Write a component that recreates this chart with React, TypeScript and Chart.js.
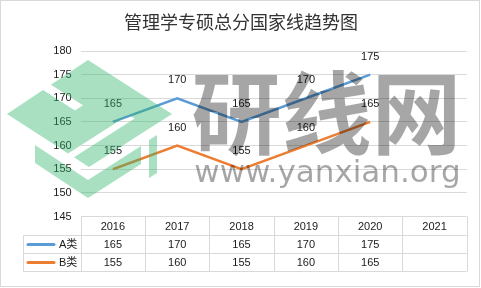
import { useEffect, useRef } from "react";
import { Chart, registerables } from "chart.js";

Chart.register(...registerables);

// ---- chart data ----
const years = ["2016", "2017", "2018", "2019", "2020", "2021"];
const seriesNames = ["A类", "B类"];
const seriesA: (number | null)[] = [165, 170, 165, 170, 175, null];
const seriesB: (number | null)[] = [155, 160, 155, 160, 165, null];
const yMin = 145;
const yMax = 180;
const yStep = 5;
const titleText = "管理学专硕总分国家线趋势图";
const brandName = "研线网";
const brandUrl = "www.yanxian.org";

const colorA = "#5B9BD5";
const colorB = "#ED7D31";
const gridColor = "#D9D9D9";
const textColor = "#1a1a1a";
const numFont = "11px 'Liberation Sans', 'Noto Sans CJK SC', sans-serif";

// white page, thin frame and the title
const framePlugin = {
  id: "frame",
  beforeDraw(chart: Chart) {
    const { ctx, width, height } = chart;
    ctx.save();
    ctx.fillStyle = "#ffffff";
    ctx.fillRect(0, 0, width, height);
    ctx.strokeStyle = gridColor;
    ctx.lineWidth = 1;
    ctx.strokeRect(0.5, 0.5, 479, 286);
    ctx.fillStyle = "#333333";
    ctx.font = "18px 'Noto Sans CJK SC', sans-serif";
    ctx.textAlign = "center";
    ctx.textBaseline = "middle";
    ctx.fillText(titleText, 241, 22);
    ctx.restore();
  },
};

// numbers written above each point
const valueLabelPlugin = {
  id: "valueLabels",
  afterDatasetsDraw(chart: Chart) {
    const { ctx } = chart;
    ctx.save();
    ctx.font = numFont;
    ctx.fillStyle = textColor;
    ctx.textAlign = "center";
    ctx.textBaseline = "middle";
    chart.data.datasets.forEach((ds, di) => {
      const meta = chart.getDatasetMeta(di);
      meta.data.forEach((pt, i) => {
        const v = ds.data[i] as number | null;
        if (v === null || v === undefined) return;
        ctx.fillText(String(v), pt.x, pt.y - 18);
      });
    });
    ctx.restore();
  },
};

// data table under the plot, columns taken from the category scale
const dataTablePlugin = {
  id: "dataTable",
  afterDraw(chart: Chart) {
    const { ctx, chartArea } = chart;
    const xs = chart.scales.x;
    const top = chartArea.bottom;
    const left = chartArea.left;
    const right = chartArea.right;
    const legendLeft = 23.5;
    const rowEdges = [top, top + 18.5, top + 36.5, top + 54.5].map(
      (v) => Math.round(v) + 0.5
    );
    const step = xs.getPixelForValue(1) - xs.getPixelForValue(0);

    ctx.save();
    ctx.strokeStyle = gridColor;
    ctx.lineWidth = 1;
    ctx.beginPath();
    // horizontal rules
    for (let r = 1; r < rowEdges.length; r++) {
      ctx.moveTo(legendLeft, rowEdges[r]);
      ctx.lineTo(right, rowEdges[r]);
    }
    // vertical rules
    const bottom = rowEdges[rowEdges.length - 1];
    ctx.moveTo(legendLeft, rowEdges[1]);
    ctx.lineTo(legendLeft, bottom);
    for (let i = 0; i <= years.length; i++) {
      const x = Math.round(xs.getPixelForValue(0) - step / 2 + i * step) + 0.5;
      ctx.moveTo(x, top);
      ctx.lineTo(x, bottom);
    }
    ctx.moveTo(Math.round(left) + 0.5, top);
    ctx.lineTo(Math.round(left) + 0.5, bottom);
    ctx.stroke();

    ctx.font = numFont;
    ctx.fillStyle = textColor;
    ctx.textBaseline = "middle";
    ctx.textAlign = "center";
    const mid = (r: number) => (rowEdges[r] + rowEdges[r + 1]) / 2;
    years.forEach((y, i) => {
      ctx.fillText(y, xs.getPixelForValue(i), mid(0));
    });
    const rows = [seriesA, seriesB];
    const colors = [colorA, colorB];
    rows.forEach((vals, r) => {
      const cy = mid(r + 1);
      vals.forEach((v, i) => {
        if (v === null) return;
        ctx.fillText(String(v), xs.getPixelForValue(i), cy);
      });
      // legend key
      ctx.save();
      ctx.strokeStyle = colors[r];
      ctx.lineWidth = 3;
      ctx.lineCap = "round";
      ctx.beginPath();
      ctx.moveTo(28, cy);
      ctx.lineTo(54, cy);
      ctx.stroke();
      ctx.restore();
      ctx.textAlign = "left";
      ctx.fillText(seriesNames[r], 59, cy);
      ctx.textAlign = "center";
    });
    ctx.restore();
  },
};

// site mark laid over the plot
const brandMarkPlugin = {
  id: "brandMark",
  afterDraw(chart: Chart) {
    const { ctx } = chart;
    ctx.save();
    // cap emblem: rhombus with two slits, a band below and a tassel
    ctx.fillStyle = "rgba(50, 180, 110, 0.42)";
    ctx.beginPath();
    const poly = (pts: number[][]) => {
      ctx.moveTo(pts[0][0], pts[0][1]);
      for (let i = 1; i < pts.length; i++) ctx.lineTo(pts[i][0], pts[i][1]);
      ctx.closePath();
    };
    poly([[88, 60], [172, 114], [89, 167], [7, 114]]);
    poly([[43, 90], [51, 84.7], [83, 105.3], [75, 110.6]]);
    poly([[68, 153.4], [74, 157.3], [134.7, 118.6], [128.7, 114.7]]);
    poly([[35, 145], [88, 180], [141, 146], [141, 164], [88, 198], [35, 163]]);
    poly([[149, 140], [157, 135], [157, 173], [149, 178]]);
    ctx.fill("evenodd");

    ctx.fillStyle = "rgba(0, 0, 0, 0.35)";
    ctx.textAlign = "center";
    ctx.textBaseline = "middle";
    ctx.font = "bold 90px 'Noto Sans CJK SC', sans-serif";
    ctx.fillText(brandName, 326.5, 113);
    ctx.textBaseline = "alphabetic";
    ctx.font = "31px 'DejaVu Sans', sans-serif";
    ctx.fillText(brandUrl, 327.5, 182);
    ctx.restore();
  },
};

export default function App() {
  const canvasRef = useRef<HTMLCanvasElement | null>(null);

  useEffect(() => {
    document.body.style.margin = "0";
    const canvas = canvasRef.current;
    if (!canvas) return;
    const chart = new Chart(canvas, {
      type: "line",
      data: {
        labels: years,
        datasets: [
          {
            label: seriesNames[0],
            data: seriesA,
            borderColor: colorA,
            backgroundColor: colorA,
            borderWidth: 2.5,
            pointRadius: 0,
            tension: 0,
          },
          {
            label: seriesNames[1],
            data: seriesB,
            borderColor: colorB,
            backgroundColor: colorB,
            borderWidth: 2.5,
            pointRadius: 0,
            tension: 0,
          },
        ],
      },
      options: {
        responsive: false,
        animation: false,
        devicePixelRatio: 1,
        layout: { padding: { top: 51, bottom: 71.5, left: 0, right: 14.3 } },
        plugins: {
          legend: { display: false },
          title: { display: false },
          tooltip: { enabled: false },
        },
        scales: {
          x: {
            type: "category",
            offset: true,
            display: false,
          },
          y: {
            min: yMin,
            max: yMax,
            border: { display: false },
            grid: { color: gridColor, lineWidth: 1, drawTicks: false },
            ticks: {
              stepSize: yStep,
              padding: 9,
              color: textColor,
              font: { family: "'Liberation Sans', sans-serif", size: 11 },
            },
            afterFit(scale: any) {
              scale.width = 80.7;
            },
          },
        },
      },
      plugins: [framePlugin, valueLabelPlugin, dataTablePlugin, brandMarkPlugin],
    });
    return () => chart.destroy();
  }, []);

  return (
    <div style={{ width: 481, height: 288 }}>
      <canvas ref={canvasRef} width={481} height={288} style={{ display: "block" }} />
    </div>
  );
}
